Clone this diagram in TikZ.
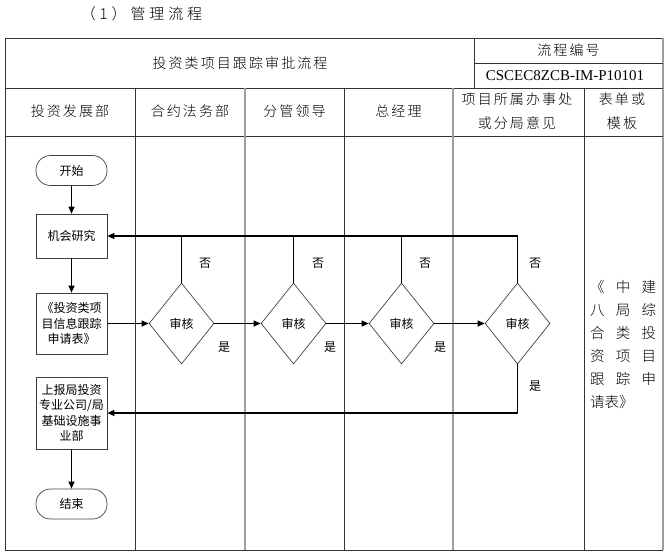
\documentclass[tikz,border=0pt]{standalone}
\usepackage{fontspec}
\setmainfont{Liberation Serif}
\newfontfamily\cjk{Noto Sans CJK SC}
\newfontfamily\cjkl{Noto Sans CJK SC Light}
\newfontfamily\cjkh{Noto Sans CJK SC Light}[LetterSpace=15]
\newfontfamily\cjkt{Noto Sans CJK SC Light}[LetterSpace=26]
\usetikzlibrary{arrows.meta,shapes.geometric}
\begin{document}
\begin{tikzpicture}[x=1pt,y=-1pt,
  tl/.style={draw=black!80, line width=0.9pt},
  tg/.style={draw=black!38, line width=1.4pt},
  hdr/.style={font=\cjkh\fontsize{14}{24}\selectfont, align=center, inner sep=0pt},
  box/.style={draw=black!75, line width=0.7pt, minimum width=71pt, align=center,
    font=\cjk\fontsize{12}{15.5}\selectfont, inner sep=0pt},
  term/.style={box, rounded corners=14.5pt, minimum height=30pt},
  proc/.style={box},
  dia/.style={diamond, draw=black!75, line width=0.7pt, minimum width=65pt,
    minimum height=81pt, inner sep=0pt, font=\cjk\fontsize{12}{14}\selectfont},
  lbl/.style={font=\cjk\fontsize{12}{14}\selectfont, inner sep=0pt},
  arr/.style={draw=black, line width=1.1pt, -{Triangle[length=7pt,width=6pt]}},
  ln/.style={draw=black, line width=1.1pt},
  rc/.style={font=\cjkl\fontsize{14.5}{18}\selectfont, inner sep=0pt, anchor=west}
]
\useasboundingbox (0,0) rectangle (668,555);

% title
\node[font=\cjkt\fontsize{15}{18}\selectfont, inner sep=0pt] (title) at (141.5,14) {（1）管理流程};

% table frame
\draw[tl] (663,38) -- (5,38) -- (5,550) -- (663,550);
\draw[tg] (663,38) -- (663,550);
\draw[tl] (5,88) -- (663,88);
\draw[tl] (5,136) -- (663,136);
\draw[tl] (474,38) -- (474,88);
\draw[tl] (474,63) -- (663,63);
\draw[tl] (135,88) -- (135,550);
\draw[tg] (245,88) -- (245,550);
\draw[tl] (344,88) -- (344,550);
\draw[tg] (453,88) -- (453,550);
\draw[tl] (584,88) -- (584,550);

% header texts
\node[hdr] (h0) at (240,63) {投资类项目跟踪审批流程};
\node[hdr] (h1) at (568.5,50.5) {流程编号};
\node[font=\fontsize{15}{18}\selectfont, inner sep=0pt] (h2) at (565,75.5) {CSCEC8ZCB-IM-P10101};
\node[hdr] (c1) at (70,111.5) {投资发展部};
\node[hdr] (c2) at (190,111.5) {合约法务部};
\node[hdr] (c3) at (294.5,111.5) {分管领导};
\node[hdr] (c4) at (398.5,111.5) {总经理};
\node[hdr] (c5) at (517,111.5) {项目所属办事处\\或分局意见};
\node[hdr] (c6) at (622,111.5) {表单或\\模板};

% flow nodes
\node[term] (start) at (71.5,170.5) {开始};
\node[proc, minimum height=44pt] (research) at (71.5,236) {机会研究};
\node[proc, minimum height=61pt] (form) at (71.5,323.5) {《投资类项\\目信息跟踪\\申请表》};
\node[proc, minimum height=72pt] (report) at (71.5,413) {上报局投资\\专业公司/局\\基础设施事\\业部};
\node[term] (end) at (71.5,504) {结束};

\node[dia] (d1) at (181.5,323.5) {审核};
\node[dia] (d2) at (293.5,323.5) {审核};
\node[dia] (d3) at (401.5,323.5) {审核};
\node[dia] (d4) at (517.5,323.5) {审核};

% connectors
\draw[arr] (start) -- (research);
\draw[arr] (research) -- (form);
\draw[arr] (form) -- (d1);
\draw[arr] (d1) -- (d2);
\draw[arr] (d2) -- (d3);
\draw[arr] (d3) -- (d4);
\draw[arr] (d4.north) |- (research.east);
\draw[ln] (d1.north) -- (d1.north |- research.east);
\draw[ln] (d2.north) -- (d2.north |- research.east);
\draw[ln] (d3.north) -- (d3.north |- research.east);
\draw[arr] (d4.south) |- (report.east);
\draw[arr] (report) -- (end);

% labels
\node[lbl] (n1) at (205,263) {否};
\node[lbl] (n2) at (318,263) {否};
\node[lbl] (n3) at (425,263) {否};
\node[lbl] (n4) at (535,263) {否};
\node[lbl] (y1) at (224,347) {是};
\node[lbl] (y2) at (330,347) {是};
\node[lbl] (y3) at (440,347) {是};
\node[lbl] (y4) at (535,386) {是};

% template column
\node[rc] (r1) at (590,287) {\makebox[66pt][s]{《\hfill 中\hfill 建}};
\node[rc] (r2) at (590,310) {\makebox[66pt][s]{八\hfill 局\hfill 综}};
\node[rc] (r3) at (590,333) {\makebox[66pt][s]{合\hfill 类\hfill 投}};
\node[rc] (r4) at (590,356) {\makebox[66pt][s]{资\hfill 项\hfill 目}};
\node[rc] (r5) at (590,379) {\makebox[66pt][s]{跟\hfill 踪\hfill 申}};
\node[rc] (r6) at (590,402) {请表》};
\end{tikzpicture}
\end{document}
